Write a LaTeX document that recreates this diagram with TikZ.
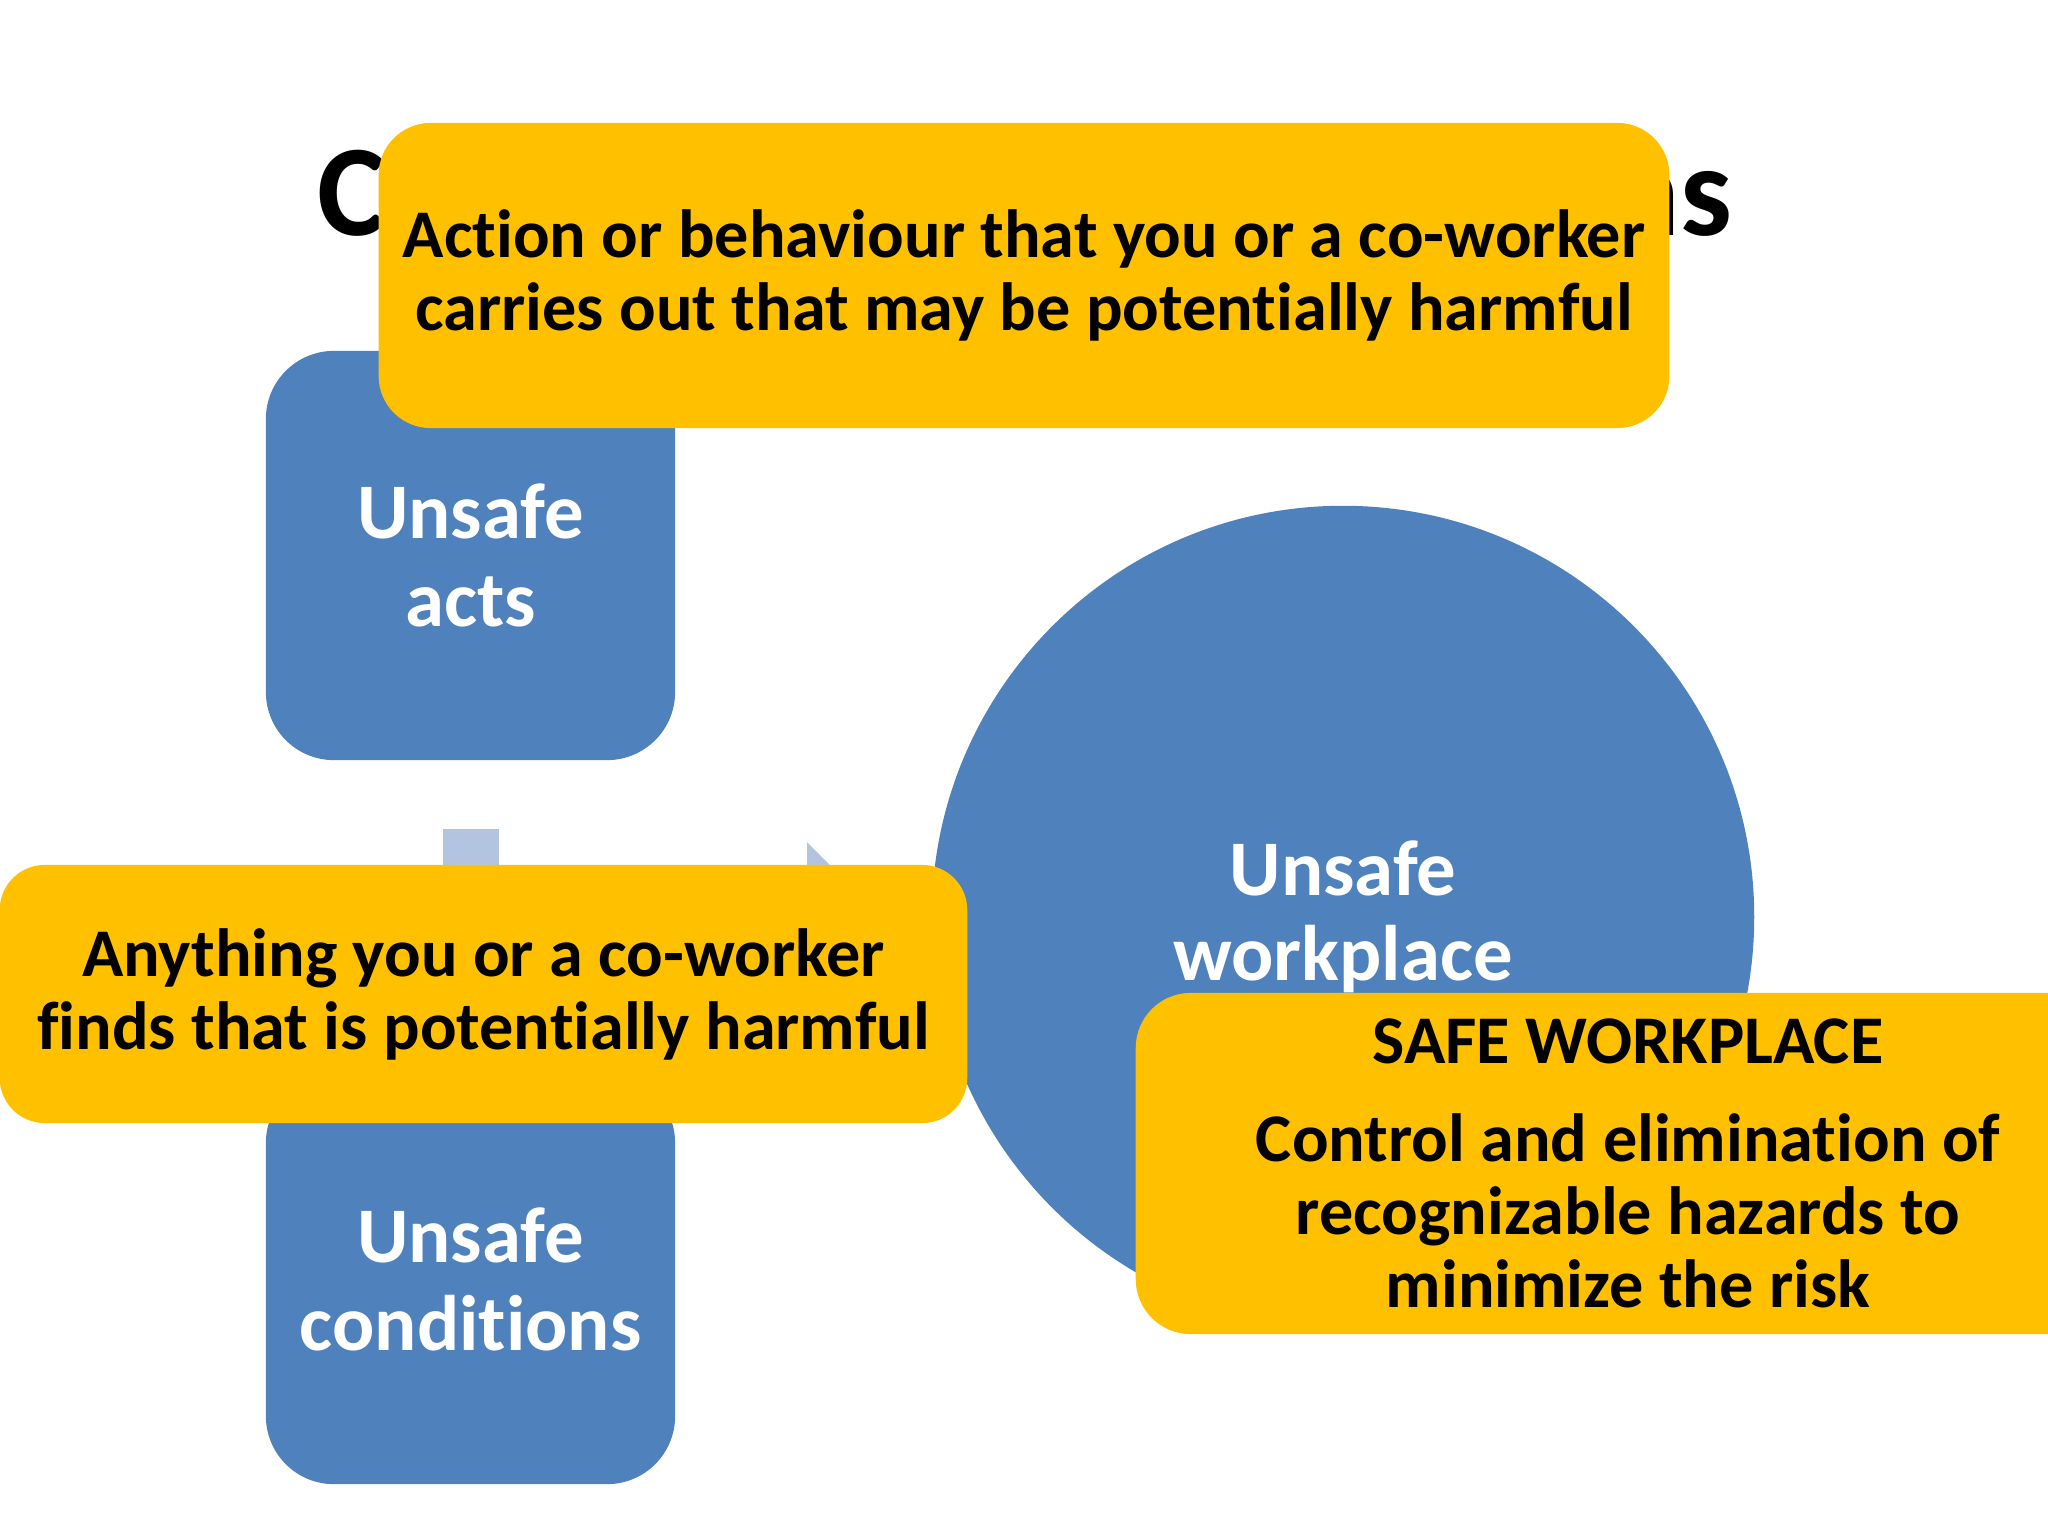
\documentclass[tikz,border=0pt]{standalone}
\usepackage{fontspec}
\setmainfont{Carlito}[Ligatures={NoCommon}]
\definecolor{ublue}{RGB}{79,129,189}
\definecolor{uyellow}{RGB}{255,192,0}
\definecolor{upale}{RGB}{178,196,223}
\begin{document}
\begin{tikzpicture}[x=0.01cm,y=-0.01cm,
  bluebox/.style={fill=ublue, rounded corners=0.68cm, minimum width=4.09cm, minimum height=4.09cm, inner sep=0pt, text=white, align=center, font=\fontsize{22.4}{25}\selectfont\bfseries},
  circbox/.style={circle, fill=ublue, minimum size=8.22cm, inner sep=0pt, text=white, align=center, font=\fontsize{22.4}{24}\selectfont\bfseries},
  notebox/.style={fill=uyellow, inner sep=0pt, text=black, align=center, font=\fontsize{19.4}{20.8}\selectfont\bfseries},
  titletext/.style={inner sep=0pt, text=black, font=\fontsize{37}{44}\selectfont\bfseries},
  palefill/.style={fill=upale}]
\useasboundingbox (0,0) rectangle (2048,1536);
\fill[white] (0,0) rectangle (2048,1536);
% title (mostly hidden)
\node[titletext, anchor=base west] (titleC) at (317,235) {C};
\node[titletext, anchor=base east] (titleNs) at (1733,235) {ns};
% blue boxes
\node[bluebox] (acts) at (470.5,555.5) {Unsafe\\acts};
\node[bluebox] (conds) at (470.5,1279.5) {Unsafe\\conditions};
% plus sign
\fill[palefill] (443,829) rectangle (499,1005);
\fill[palefill] (383,889) rectangle (559,945);
% arrow
\fill[palefill] (740,880) -- (807,880) -- (807,842) -- (882,917) -- (807,992) -- (807,954) -- (740,954) -- cycle;
% circle
\node[circbox] (work) at (1343,917) {Unsafe\\workplace};
% yellow notes
\node[notebox, rounded corners=0.52cm, minimum width=12.90cm, minimum height=3.05cm] (noteacts) at (1024,275.5)
  {Action or behaviour that you or a co-worker\\carries out that may be potentially harmful};
\node[notebox, rounded corners=0.45cm, minimum width=9.67cm, minimum height=2.58cm] (noteconds) at (483.5,994)
  {Anything you or a co-worker\\finds that is potentially harmful};
\node[notebox, rounded corners=0.55cm, minimum width=9.84cm, minimum height=3.41cm] (notesafe) at (1628,1163.5)
  {SAFE WORKPLACE\\[0.25cm]Control and elimination of\\recognizable hazards to\\minimize the risk};
\end{tikzpicture}
\end{document}
